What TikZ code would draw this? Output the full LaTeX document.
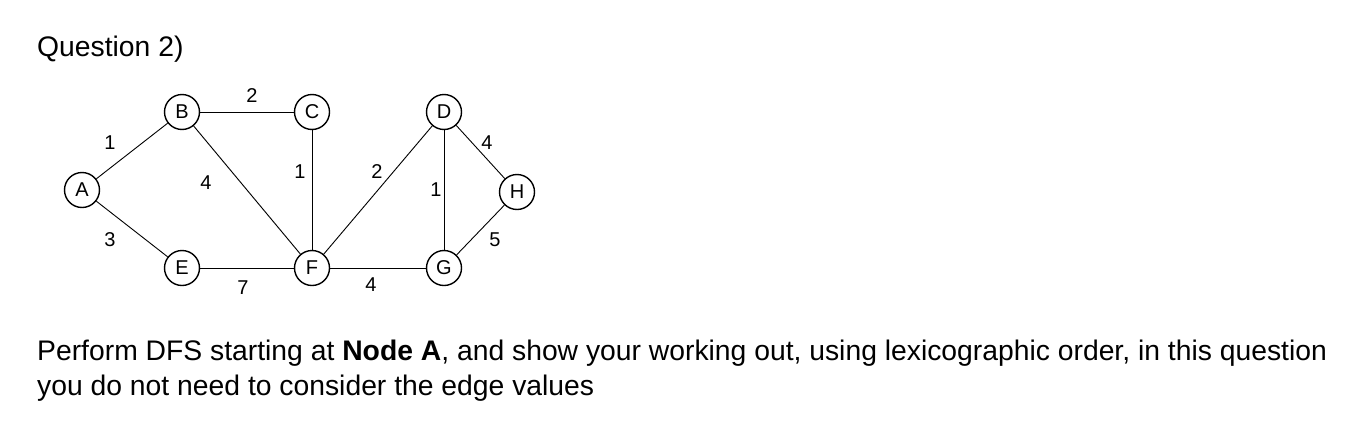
\documentclass[tikz,border=0pt]{standalone}
\usepackage{fontspec}
\setmainfont{Liberation Sans}
\begin{document}
\begin{tikzpicture}[x=1pt,y=-1pt,
  vert/.style={draw,circle,line width=1.4pt,minimum size=35pt,inner sep=0pt,font=\fontsize{20}{22}\selectfont},
  edge/.style={draw,line width=0.9pt},
  wt/.style={font=\fontsize{20}{22}\selectfont,inner sep=0pt},
  txt/.style={anchor=base west,inner sep=0pt,font=\fontsize{28.3}{32}\selectfont}]
\useasboundingbox (0,0) rectangle (1354,434);
\node[txt] (q) at (37,56) {Question 2)};
\node[txt] (p1) at (37,360) {Perform DFS starting at \textbf{Node A}, and show your working out, using lexicographic order, in this question};
\node[txt] (p2) at (37,395) {you do not need to consider the edge values};
\node[vert] (A) at (82,190) {A};
\node[vert] (B) at (182,112) {B};
\node[vert] (C) at (312,112) {C};
\node[vert] (D) at (444,112) {D};
\node[vert] (H) at (517,192) {H};
\node[vert] (E) at (182,268) {E};
\node[vert] (F) at (312,268) {F};
\node[vert] (G) at (444,268) {G};
\draw[edge] (A)--(B); \draw[edge] (A)--(E); \draw[edge] (B)--(C);
\draw[edge] (B)--(F); \draw[edge] (C)--(F); \draw[edge] (E)--(F);
\draw[edge] (F)--(G); \draw[edge] (F)--(D); \draw[edge] (D)--(G);
\draw[edge] (D)--(H); \draw[edge] (H)--(G);
\node[wt] (w1) at (110,143) {1};
\node[wt] (w2) at (110,240) {3};
\node[wt] (w3) at (252,96) {2};
\node[wt] (w4) at (206,183) {4};
\node[wt] (w5) at (300,172) {1};
\node[wt] (w6) at (377,172) {2};
\node[wt] (w7) at (436,190) {1};
\node[wt] (w8) at (487,143) {4};
\node[wt] (w9) at (495,240) {5};
\node[wt] (w10) at (243,288) {7};
\node[wt] (w11) at (371,285) {4};
\end{tikzpicture}
\end{document}
